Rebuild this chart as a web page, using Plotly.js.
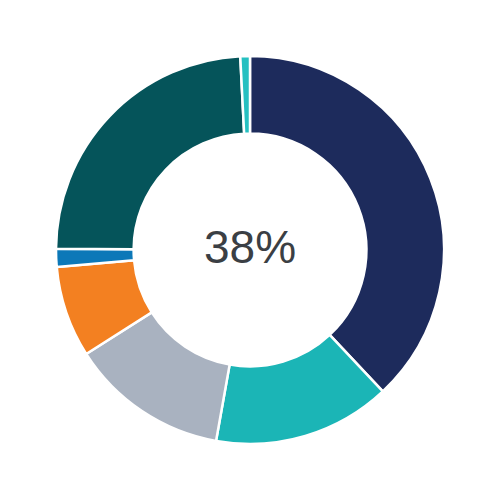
<!DOCTYPE html>
<html>
<head>
<meta charset="utf-8">
<script src="https://cdn.plot.ly/plotly-3.0.1.min.js"></script>
<style>
  html, body { margin:0; padding:0; background:#fff; }
  #chart { width:500px; height:500px; }
</style>
</head>
<body>
<div id="chart"></div>
<script>
  // slices, clockwise from 12 o'clock
  const labels = ['A', 'B', 'C', 'D', 'E', 'F', 'G'];
  const values = [38, 14.8, 13.2, 7.6, 1.5, 24.1, 0.8];
  const colors = ['#1d2b5c', '#1bb5b6', '#a9b2c0', '#f38021', '#0c78b8', '#05545a', '#26c0c1'];
  const centerText = '38%';

  Plotly.newPlot('chart', [{
    type: 'pie',
    labels: labels,
    values: values,
    hole: 0.6,
    sort: false,
    direction: 'clockwise',
    rotation: 0,
    textinfo: 'none',
    hoverinfo: 'none',
    marker: { colors: colors, line: { color: '#ffffff', width: 2.5 } }
  }], {
    width: 500, height: 500,
    margin: { l: 56, r: 56, t: 56, b: 56 },
    showlegend: false,
    paper_bgcolor: '#fff',
    annotations: [{
      text: centerText, x: 0.5, y: 0.5, xref: 'paper', yref: 'paper',
      showarrow: false, yshift: 3,
      font: { family: 'Liberation Sans, Arial, sans-serif', size: 46, color: '#3b3f44' }
    }]
  }, { staticPlot: true });
</script>
</body>
</html>
